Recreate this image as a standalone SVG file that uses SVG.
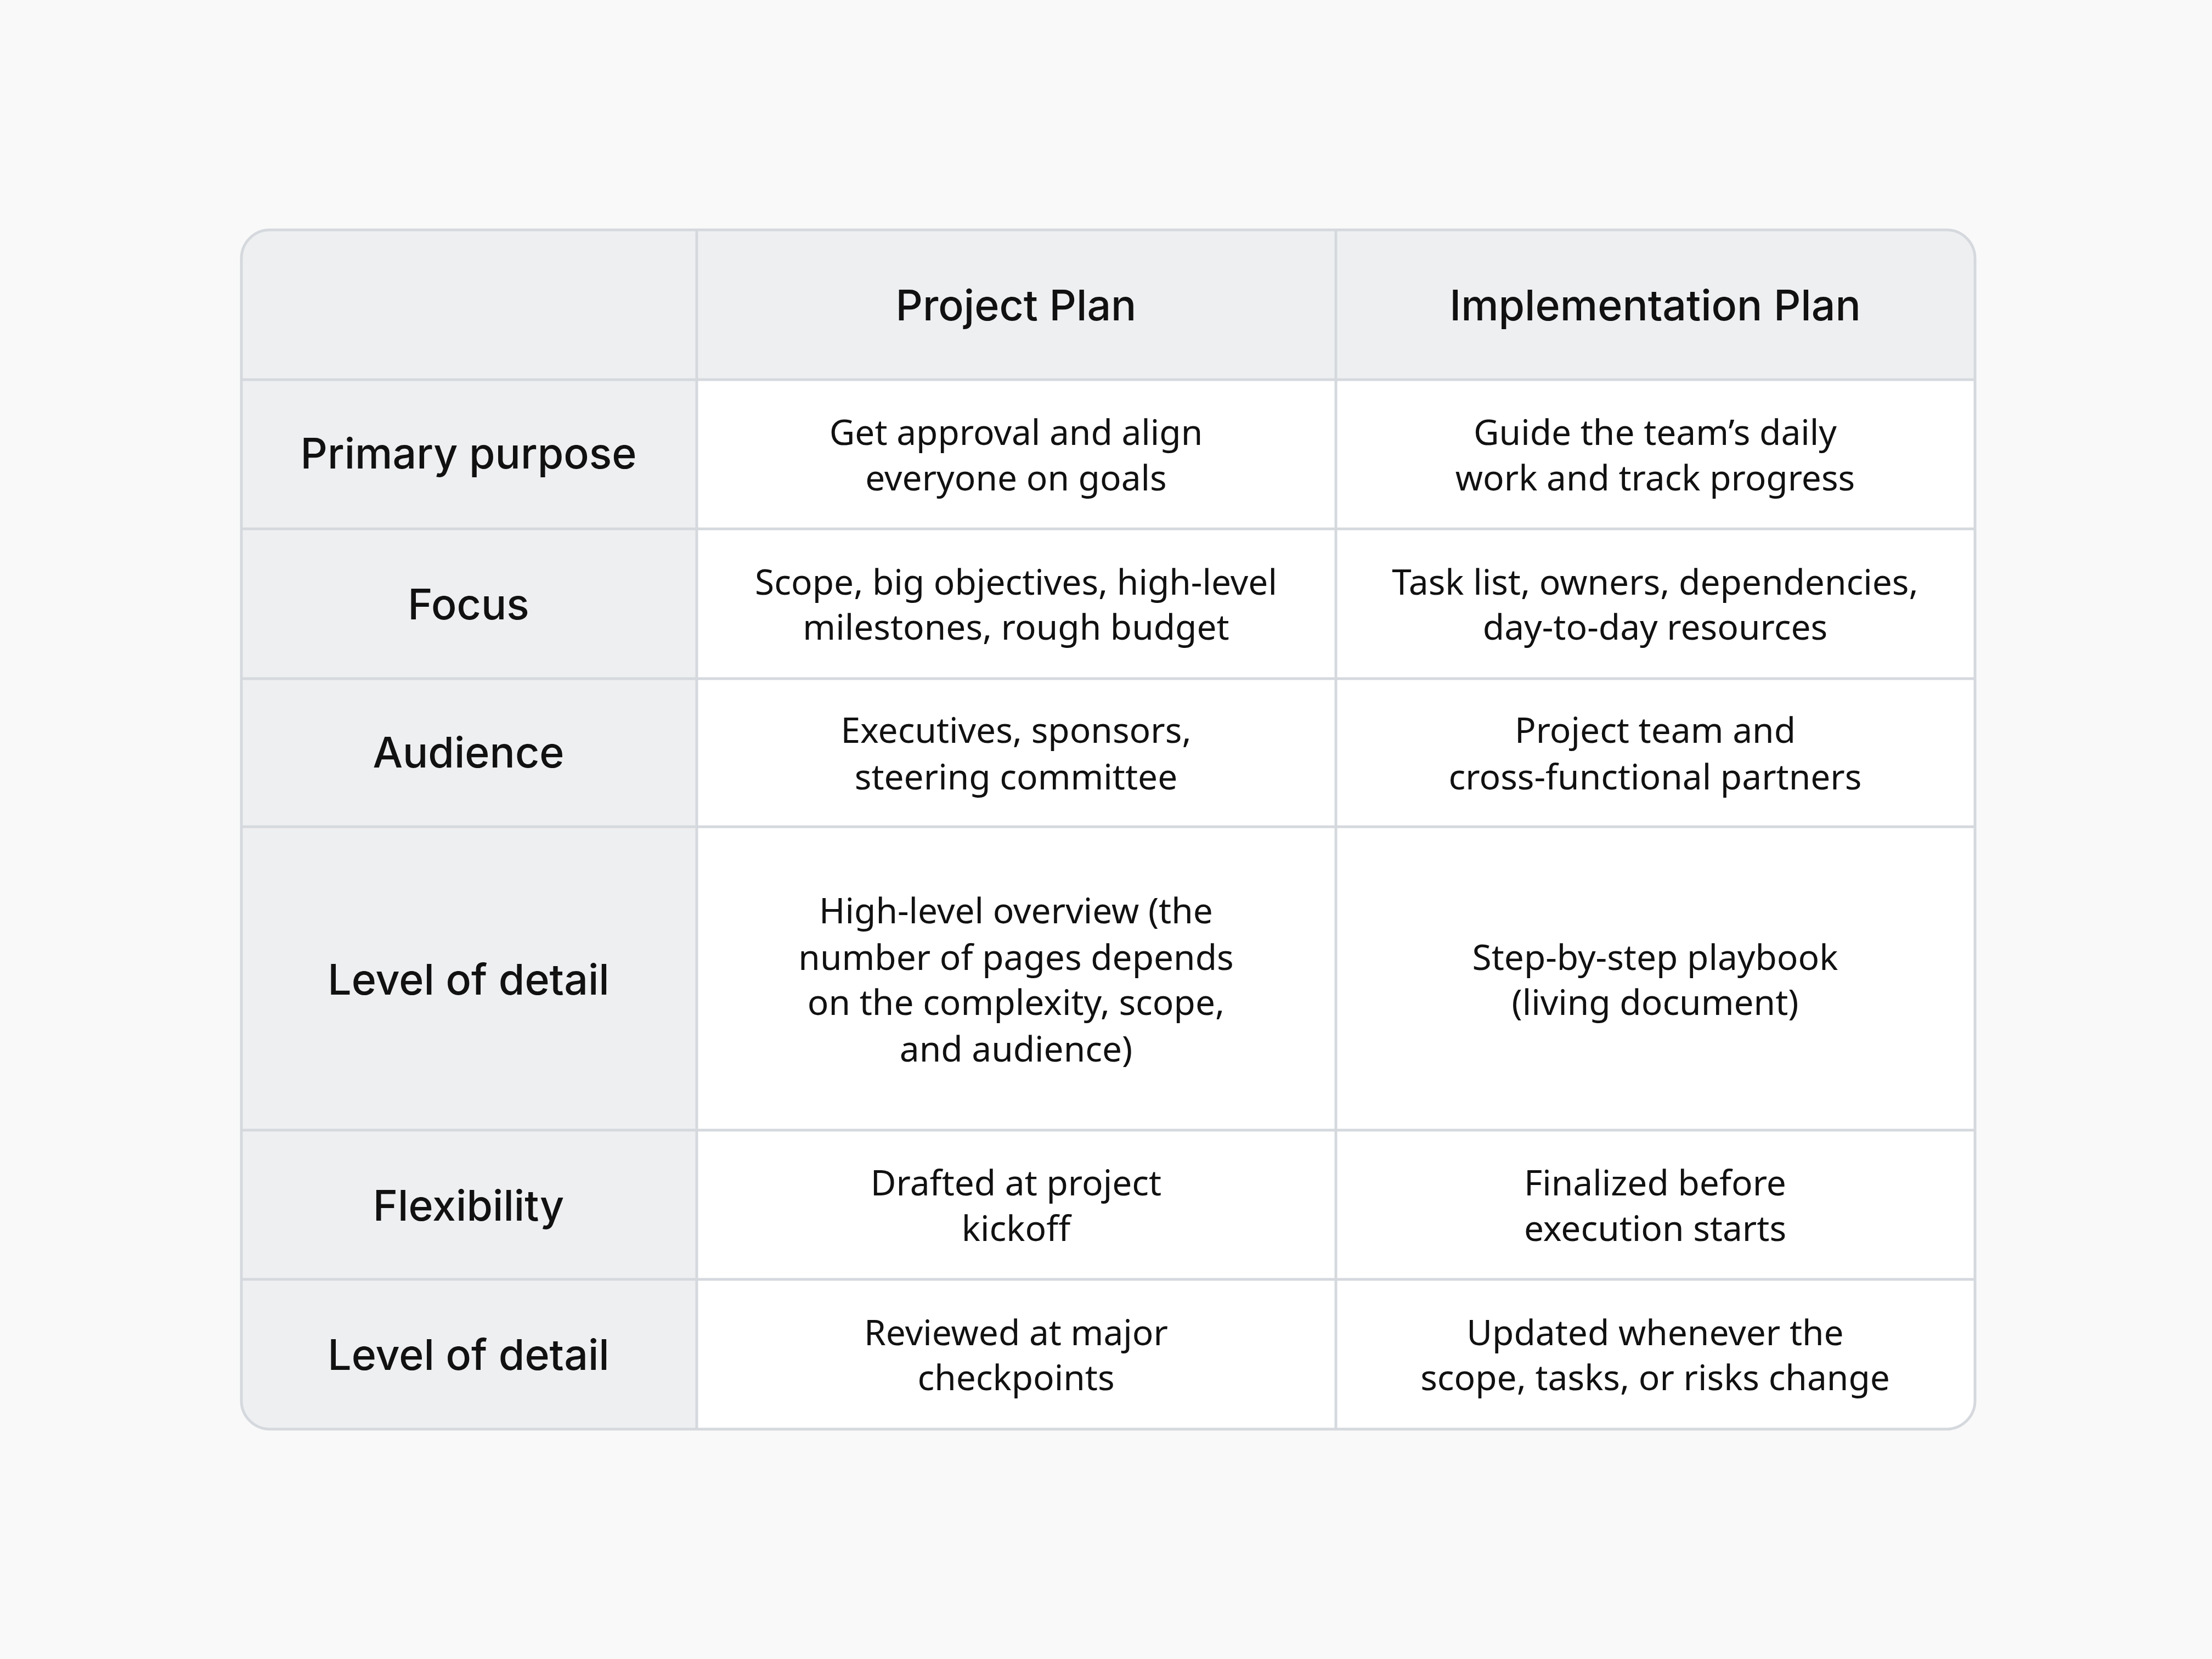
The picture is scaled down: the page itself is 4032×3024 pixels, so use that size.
<svg xmlns="http://www.w3.org/2000/svg" width="4032" height="3024" viewBox="0 0 4032 3024">
<defs><clipPath id="c"><rect x="440" y="419" width="3160" height="2186" rx="52"/></clipPath></defs>
<style>
.h{font-family:Inter,"Noto Sans",sans-serif;font-size:77px;font-weight:500;fill:#111;text-anchor:middle}
.b{font-family:"Noto Sans",sans-serif;font-size:64px;fill:#111;text-anchor:middle}
.g{stroke:#d5d9de;stroke-width:5;fill:none}
</style>
<rect width="4032" height="3024" fill="#f9f9f9"/>
<g id="table">
<g clip-path="url(#c)">
<rect x="440" y="419" width="3160" height="2186" fill="#fff"/>
<rect x="440" y="419" width="3160" height="273" fill="#eeeff1"/>
<rect x="440" y="419" width="830" height="2186" fill="#eeeff1"/>
</g>
<g class="g">
<rect x="440" y="419" width="3160" height="2186" rx="52"/>
<path d="M1270 419V2605M2435 419V2605M440 692H3600M440 964H3600M440 1237H3600M440 1507H3600M440 2060H3600M440 2332H3600"/>
</g>
</g>
<g id="header"><text class="h" x="1852" y="584">Project Plan</text><text class="h" x="3017" y="584">Implementation Plan</text></g>
<g id="labels">
<text class="h" x="854" y="854">Primary purpose</text>
<text class="h" x="854" y="1129">Focus</text>
<text class="h" x="854" y="1399">Audience</text>
<text class="h" x="854" y="1813">Level of detail</text>
<text class="h" x="854" y="2225">Flexibility</text>
<text class="h" x="854" y="2497">Level of detail</text>
</g>
<g id="cells">
<text class="b" x="1852" y="811">Get approval and align</text><text class="b" x="1852" y="894">everyone on goals</text>
<text class="b" x="3017" y="811">Guide the team’s daily</text><text class="b" x="3017" y="894">work and track progress</text>
<text class="b" x="1852" y="1084">Scope, big objectives, high-level</text><text class="b" x="1852" y="1166">milestones, rough budget</text>
<text class="b" x="3017" y="1084">Task list, owners, dependencies,</text><text class="b" x="3017" y="1166">day-to-day resources</text>
<text class="b" x="1852" y="1354">Executives, sponsors,</text><text class="b" x="1852" y="1439">steering committee</text>
<text class="b" x="3017" y="1354">Project team and</text><text class="b" x="3017" y="1439">cross-functional partners</text>
<text class="b" x="1852" y="1683">High-level overview (the</text><text class="b" x="1852" y="1768">number of pages depends</text><text class="b" x="1852" y="1850">on the complexity, scope,</text><text class="b" x="1852" y="1935">and audience)</text>
<text class="b" x="3017" y="1768">Step-by-step playbook</text><text class="b" x="3017" y="1850">(living document)</text>
<text class="b" x="1852" y="2179">Drafted at project</text><text class="b" x="1852" y="2262">kickoff</text>
<text class="b" x="3017" y="2179">Finalized before</text><text class="b" x="3017" y="2262">execution starts</text>
<text class="b" x="1852" y="2452">Reviewed at major</text><text class="b" x="1852" y="2534">checkpoints</text>
<text class="b" x="3017" y="2452">Updated whenever the</text><text class="b" x="3017" y="2534">scope, tasks, or risks change</text>
</g>
</svg>
